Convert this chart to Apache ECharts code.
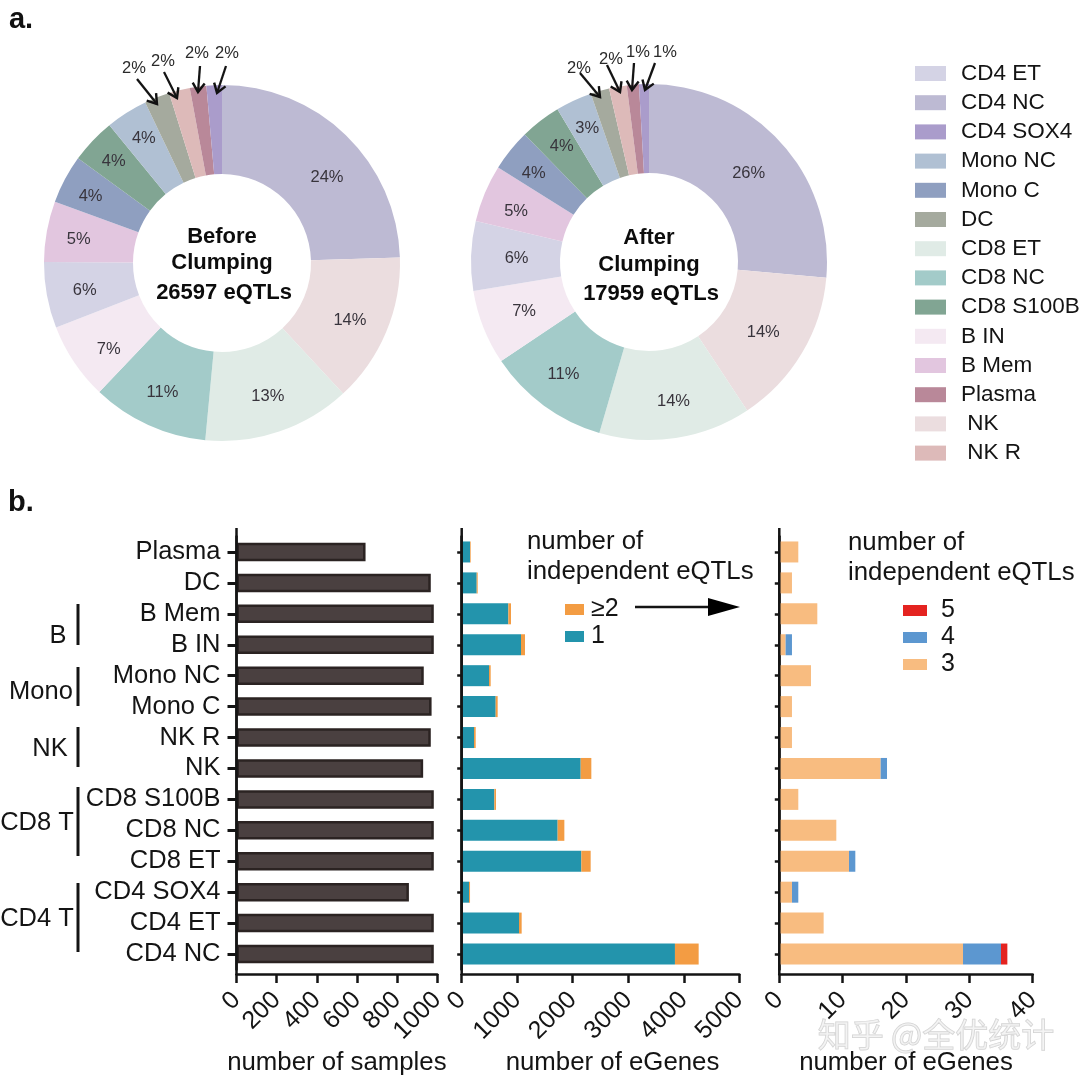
<!DOCTYPE html>
<html><head><meta charset="utf-8">
<style>html,body{margin:0;padding:0;background:#fff}#c{width:1080px;height:1078px}</style>
<script src="https://cdn.jsdelivr.net/npm/echarts@6/dist/echarts.min.js"></script>
</head><body><div id="c"></div>
<script>
// ---- pie data
const sliceNames = ['CD4 NC','NK','CD8 ET','CD8 NC','B IN','CD4 ET','B Mem','Mono C','CD8 S100B','Mono NC','DC','NK R','Plasma','CD4 SOX4'];
const beforeShare = [24.5,13.6,13.4,10.6,7.0,6.0,5.5,4.4,4.1,3.8,2.3,1.9,1.5,1.4];
const afterShare  = [26.4,14.3,13.8,11.1,6.8,6.3,5.2,3.8,3.7,3.3,1.7,1.6,1.1,0.9];
const beforeLabels = ['24%','14%','13%','11%','7%','6%','5%','4%','4%','4%','2%','2%','2%','2%'];
const afterLabels  = ['26%','14%','14%','11%','7%','6%','5%','4%','4%','3%','2%','2%','1%','1%'];
const legendOrder = ['CD4 ET','CD4 NC','CD4 SOX4','Mono NC','Mono C','DC','CD8 ET','CD8 NC','CD8 S100B','B IN','B Mem','Plasma','NK','NK R'];
const sliceColors = {'CD4 ET':'#D4D3E5','CD4 NC':'#BDBAD3','CD4 SOX4':'#AA9CCB','Mono NC':'#B0C0D3','Mono C':'#8F9FC0','DC':'#A5AA9E','CD8 ET':'#E0EBE6','CD8 NC':'#A3CBC9','CD8 S100B':'#81A593','B IN':'#F4E9F2','B Mem':'#E2C6DF','Plasma':'#B98899','NK':'#EBDDDF','NK R':'#DDBAB9'};
// ---- bar data (top to bottom)
const cellTypes = ['Plasma','DC','B Mem','B IN','Mono NC','Mono C','NK R','NK','CD8 S100B','CD8 NC','CD8 ET','CD4 SOX4','CD4 ET','CD4 NC'];
const samples = [643,968,983,983,933,972,968,930,983,983,983,859,983,983];
const eGenes1 = [150,270,840,1068,492,612,222,2143,588,1728,2155,132,1032,3841];
const eGenes2 = [12,18,48,72,30,36,30,192,30,121,168,18,48,427];
const eQtl3 = [3,2,6,1,5,2,2,16,3,9,11,2,7,29];
const eQtl4 = [0,0,0,1,0,0,0,1,0,0,1,1,0,6];
const eQtl5 = [0,0,0,0,0,0,0,0,0,0,0,0,0,1];
const sampleTicks = {max:1000, interval:200, name:'number of samples', shift:0};
const geneTicks = {max:5000, interval:1000, name:'number of eGenes', shift:24};
const qtlTicks = {max:40, interval:10, name:'number of eGenes', shift:0};

const FONT = '"Liberation Sans", Arial, sans-serif';
const INK = '#141414';
const TOP = 536.5, BANDS_H = 433, AXIS_Y = 974, AXIS_TOP = 528;
const PANELS = [{left:236.5,width:200.7},{left:461.7,width:277.6},{left:779.3,width:253.4}];
const beforeNudge = [[10,12],[2,5],[2,4],[-3,5],[0,10],[-3,3],[-9,1],[-11,-2],[-9,-8],[-5,-9]];
const afterNudge  = [[-1,4],[-3,1],[4,5],[-5,2],[2,-1],[4,1],[-7,2],[-9,-3],[-4,-7],[-4,-10]];

function pie(name, share, labels, nudge, cx, cy){
  return {type:'pie', name, center:[cx,cy], radius:[89,178], startAngle:90, animation:false, silent:true,
    label:{show:true, position:'inside', fontFamily:FONT, fontSize:16.5, color:'#38343c',
      formatter:p=> p.dataIndex<10 ? labels[p.dataIndex] : ''},
    labelLine:{show:false},
    labelLayout:p=> p.dataIndex<10 ? {dx:nudge[p.dataIndex][0],dy:nudge[p.dataIndex][1]} : {},
    data:sliceNames.map((n,i)=>({name:n,value:share[i],itemStyle:{color:sliceColors[n]}}))};
}
function bar(name,color,data,ix,extra){
  return Object.assign({type:'bar',name,data,xAxisIndex:ix,yAxisIndex:ix,stack:'s'+ix,barWidth:21,animation:false,silent:true,
    itemStyle:{color}},extra||{});
}
const xAxes = [sampleTicks,geneTicks,qtlTicks].map((t,i)=>({
  type:'value',gridIndex:i,min:0,max:t.max,interval:t.interval,position:'bottom',offset:AXIS_Y-(TOP+BANDS_H),
  name:t.name,nameLocation:'middle',nameGap:76,
  nameTextStyle:{fontFamily:FONT,fontSize:25.8,color:INK,padding:[0,0,0,t.shift]},
  splitLine:{show:false},
  axisLine:{show:true,onZero:false,lineStyle:{color:INK,width:2.5}},
  axisTick:{show:true,length:9,lineStyle:{color:INK,width:2.5}},
  axisLabel:{rotate:45,fontFamily:FONT,fontSize:25,color:INK,margin:22,showMinLabel:true,showMaxLabel:true,hideOverlap:false,formatter:v=>String(v)}
}));
const yAxes = [0,1,2].map(i=>({
  type:'category',gridIndex:i,data:cellTypes,inverse:true,
  axisLine:{show:true,onZero:false,lineStyle:{color:INK,width:2.5}},
  axisTick:{show:true,alignWithLabel:true,length:i==0?9:4.5,lineStyle:{color:INK,width:i==0?3:2.5}},
  axisLabel:{show:i==0,interval:0,fontFamily:FONT,fontSize:25.5,color:INK,margin:16,padding:[3,0,0,0]}
}));

// ---- annotation layout
const t=(text,x,y,size,opt)=>({type:'text',z:100,x,y,style:Object.assign({text,fontFamily:FONT,fontSize:size,fill:INK,textAlign:'center',textVerticalAlign:'middle'},opt||{})});
const seg=(x1,y1,x2,y2,w)=>({type:'line',z:100,shape:{x1,y1,x2,y2},style:{stroke:INK,lineWidth:w||3}});
function arrow(x1,y1,x2,y2){
  const a=Math.atan2(y2-y1,x2-x1), L=9, W=6;
  const bx=x2-L*Math.cos(a), by=y2-L*Math.sin(a);
  return [seg(x1,y1,x2,y2,2.3),{type:'polyline',z:100,shape:{points:[[bx-W*Math.sin(a),by+W*Math.cos(a)],[x2,y2],[bx+W*Math.sin(a),by-W*Math.cos(a)]]},style:{stroke:'#111',lineWidth:2.4,fill:'none'}}];
}
const beforeCallouts=[[134,68,137,79,157,104],[163,61,164,72,177,98],[197,53,200,66,198,92],[227,53,226,66,217,93]];
const afterCallouts=[[579,68,580,73,600,97],[611,59,607,65,620,92],[638,52,634,63,632,90],[665,52,655,63,645,90]];
const groupBrackets=[['B',58,636,604,645],['Mono',41,692,667,706],['NK',50,749,727,767],['CD8 T',37,823,787,856],['CD4 T',37,919,883,952]];
const gfx=[];
gfx.push(t('a.',21,20,29,{fontWeight:'bold',fill:'#111'}),t('b.',21,503,29,{fontWeight:'bold',fill:'#111'}));
[['Before',222,237],['Clumping',222,263],['26597 eQTLs',224,293],['After',649,238],['Clumping',649,265],['17959 eQTLs',651,294]]
 .forEach(a=>gfx.push(t(a[0],a[1],a[2],22,{fontWeight:'bold',fill:'#0c0c0c'})));
[[beforeCallouts,beforeLabels],[afterCallouts,afterLabels]].forEach(([cs,ls])=>cs.forEach((c,i)=>{
  gfx.push(t(ls[10+i],c[0],c[1],16.5,{fill:'#2a2a2a'}),...arrow(c[2],c[3],c[4],c[5]));
}));
groupBrackets.forEach(g=>{
  gfx.push(t(g[0],g[1],g[2],25.5),seg(78,g[3],78,g[4],3));
});
PANELS.forEach(p=>gfx.push(seg(p.left,AXIS_TOP,p.left,AXIS_Y+1,2.5)));
[[527,541.5,'number of'],[527,572,'independent eQTLs'],[848,542.5,'number of'],[848,573,'independent eQTLs']]
 .forEach(a=>gfx.push(t(a[2],a[0],a[1],25.8,{textAlign:'left'})));
gfx.push(seg(635,607,712,607,2.5),{type:'polygon',z:100,shape:{points:[[708,598],[740,607],[708,616]]},style:{fill:'#000'}});
gfx.push(t('知乎 @全优统计',936,1034,33,{fontFamily:'"Noto Sans CJK SC"',fill:'rgba(235,235,235,0.55)',stroke:'rgba(190,190,190,0.7)',lineWidth:1}));

const option={
  backgroundColor:'#fff',
  animation:false,
  grid:PANELS.map(p=>({left:p.left,width:p.width,top:TOP,height:BANDS_H,containLabel:false})),
  xAxis:xAxes, yAxis:yAxes,
  legend:[
    {data:legendOrder,orient:'vertical',left:910,top:57,itemWidth:31,itemHeight:15,itemGap:6.2,selectedMode:false,icon:'rect',
     itemStyle:{borderWidth:0},
     textStyle:{fontFamily:FONT,fontSize:22.5,color:INK,lineHeight:23,padding:[0,0,0,10]},
     formatter:n=> (n==='NK'||n==='NK R')?' '+n:n},
    {data:['≥2','1'],orient:'vertical',left:560,top:592,itemWidth:19,itemHeight:11,itemGap:2,selectedMode:false,icon:'rect',
     textStyle:{fontFamily:FONT,fontSize:25,color:INK,lineHeight:25,padding:[0,0,0,2]}},
    {data:['5','4','3'],orient:'vertical',left:898,top:593,itemWidth:24,itemHeight:11,itemGap:2,selectedMode:false,icon:'rect',
     textStyle:{fontFamily:FONT,fontSize:25,color:INK,lineHeight:25,padding:[0,0,0,9]}}
  ],
  series:[
    pie('Before Clumping',beforeShare,beforeLabels,beforeNudge,222,263),
    pie('After Clumping',afterShare,afterLabels,afterNudge,649,262),
    bar('samples','#4a3f3f',samples,0,{itemStyle:{color:'#4a4040',borderColor:'#2b2322',borderWidth:2.5},barWidth:18.5}),
    bar('1','#2394AC',eGenes1,1),
    bar('≥2','#F39C43',eGenes2,1),
    bar('3','#F8BC80',eQtl3,2),
    bar('4','#5C97D0',eQtl4,2),
    bar('5','#E42320',eQtl5,2)
  ],
  graphic:{elements:gfx}
};
echarts.init(document.getElementById('c')).setOption(option);
</script></body></html>
